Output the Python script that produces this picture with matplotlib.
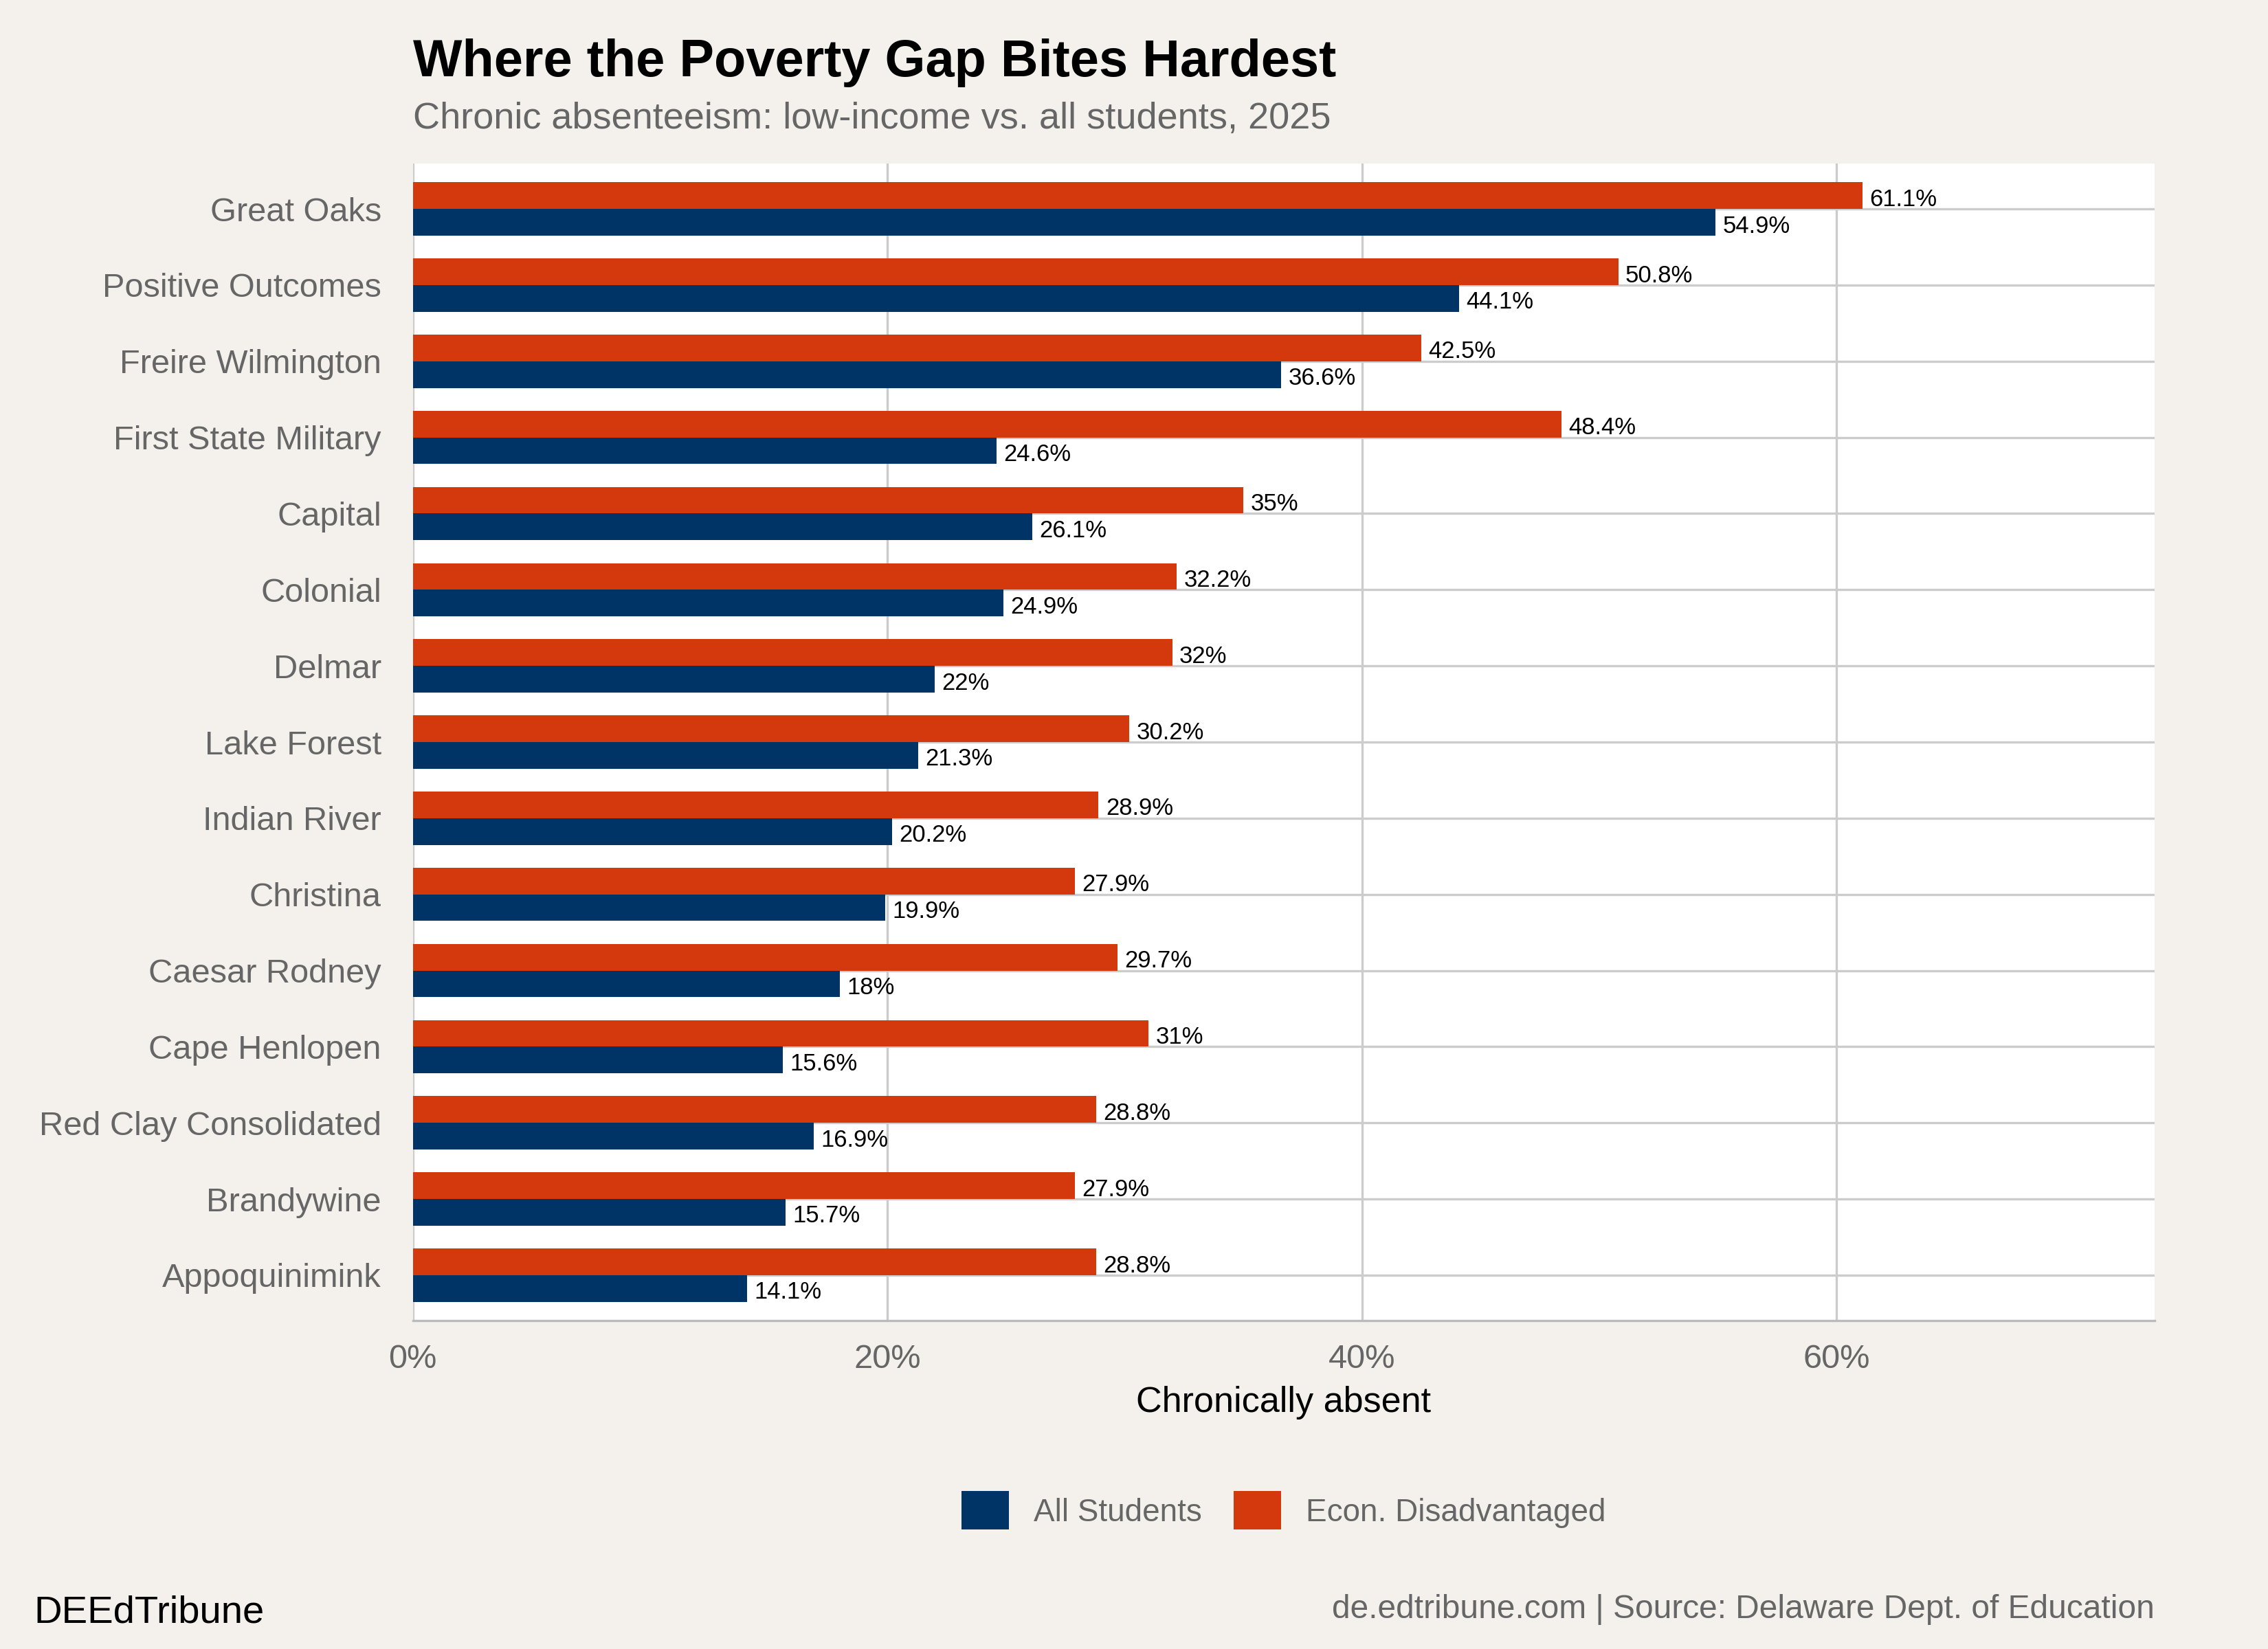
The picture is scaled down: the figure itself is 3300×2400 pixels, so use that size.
import matplotlib
matplotlib.use("Agg")
import matplotlib.pyplot as plt
import numpy as np

districts = ["Great Oaks", "Positive Outcomes", "Freire Wilmington", "First State Military",
             "Capital", "Colonial", "Delmar", "Lake Forest", "Indian River", "Christina",
             "Caesar Rodney", "Cape Henlopen", "Red Clay Consolidated", "Brandywine", "Appoquinimink"]
all_students = [54.9, 44.1, 36.6, 24.6, 26.1, 24.9, 22, 21.3, 20.2, 19.9, 18, 15.6, 16.9, 15.7, 14.1]
econ_dis = [61.1, 50.8, 42.5, 48.4, 35, 32.2, 32, 30.2, 28.9, 27.9, 29.7, 31, 28.8, 27.9, 28.8]
xticks = [0, 20, 40, 60]
xticklabels = ["0%", "20%", "40%", "60%"]

plt.rcParams['font.family'] = ['Liberation Sans', 'DejaVu Sans']
BG = "#F4F1EC"
NAVY = "#003366"
RED = "#D4380D"

fig = plt.figure(figsize=(11, 8), dpi=300, facecolor=BG)
ax = fig.add_axes([0.182, 0.199, 0.768, 0.702])
ax.set_facecolor("white")

n = len(districts)
y = np.arange(n)[::-1]
h = 0.35
ax.barh(y - h/2, all_students, height=h, color=NAVY, label="All Students", zorder=3)
ax.barh(y + h/2, econ_dis, height=h, color=RED, label="Econ. Disadvantaged", zorder=3)

def fmt(v):
    return f"{v:g}%"
for yi, a, e in zip(y, all_students, econ_dis):
    ax.text(a + 0.3, yi - h/2 - 0.05, fmt(a), va="center", ha="left", fontsize=8.3, color="black", zorder=4)
    ax.text(e + 0.3, yi + h/2 - 0.05, fmt(e), va="center", ha="left", fontsize=8.3, color="black", zorder=4)

ax.set_xlim(0, 73.4)
ax.set_ylim(-0.6, n - 0.4)
ax.set_yticks(y)
ax.set_yticklabels(districts, fontsize=11.7, color="#666666")
ax.set_xticks(xticks)
ax.set_xticklabels(xticklabels, fontsize=11.7, color="#666666")
ax.tick_params(axis="y", length=0, pad=11)
ax.tick_params(axis="x", length=0, pad=8)
ax.grid(True, color="#CCCCCC", linewidth=0.8, zorder=0)
ax.set_axisbelow(True)
for s in ["top", "right", "left"]:
    ax.spines[s].set_visible(False)
ax.spines["bottom"].set_color("#BBBBBB")
ax.set_xlabel("Chronically absent", fontsize=12.5, color="black", labelpad=4)

fig.text(0.182, 0.962, "Where the Poverty Gap Bites Hardest", fontsize=18.2, fontweight="bold",
         ha="left", va="center")
fig.text(0.182, 0.928, "Chronic absenteeism: low-income vs. all students, 2025", fontsize=13,
         color="#666666", ha="left", va="center")

handles, labels = ax.get_legend_handles_labels()
fig.legend(handles, labels, loc="center", bbox_to_anchor=(0.566, 0.084), ncol=2, frameon=False,
           fontsize=11, labelcolor="#666666", handlelength=1.5, handleheight=1.5, columnspacing=1.0)

fig.text(0.015, 0.022, "DEEdTribune", fontsize=13.5, ha="left", va="center")
fig.text(0.95, 0.024, "de.edtribune.com | Source: Delaware Dept. of Education", fontsize=11.5,
         color="#666666", ha="right", va="center")

fig.savefig("out.png", dpi=300, facecolor=BG)
